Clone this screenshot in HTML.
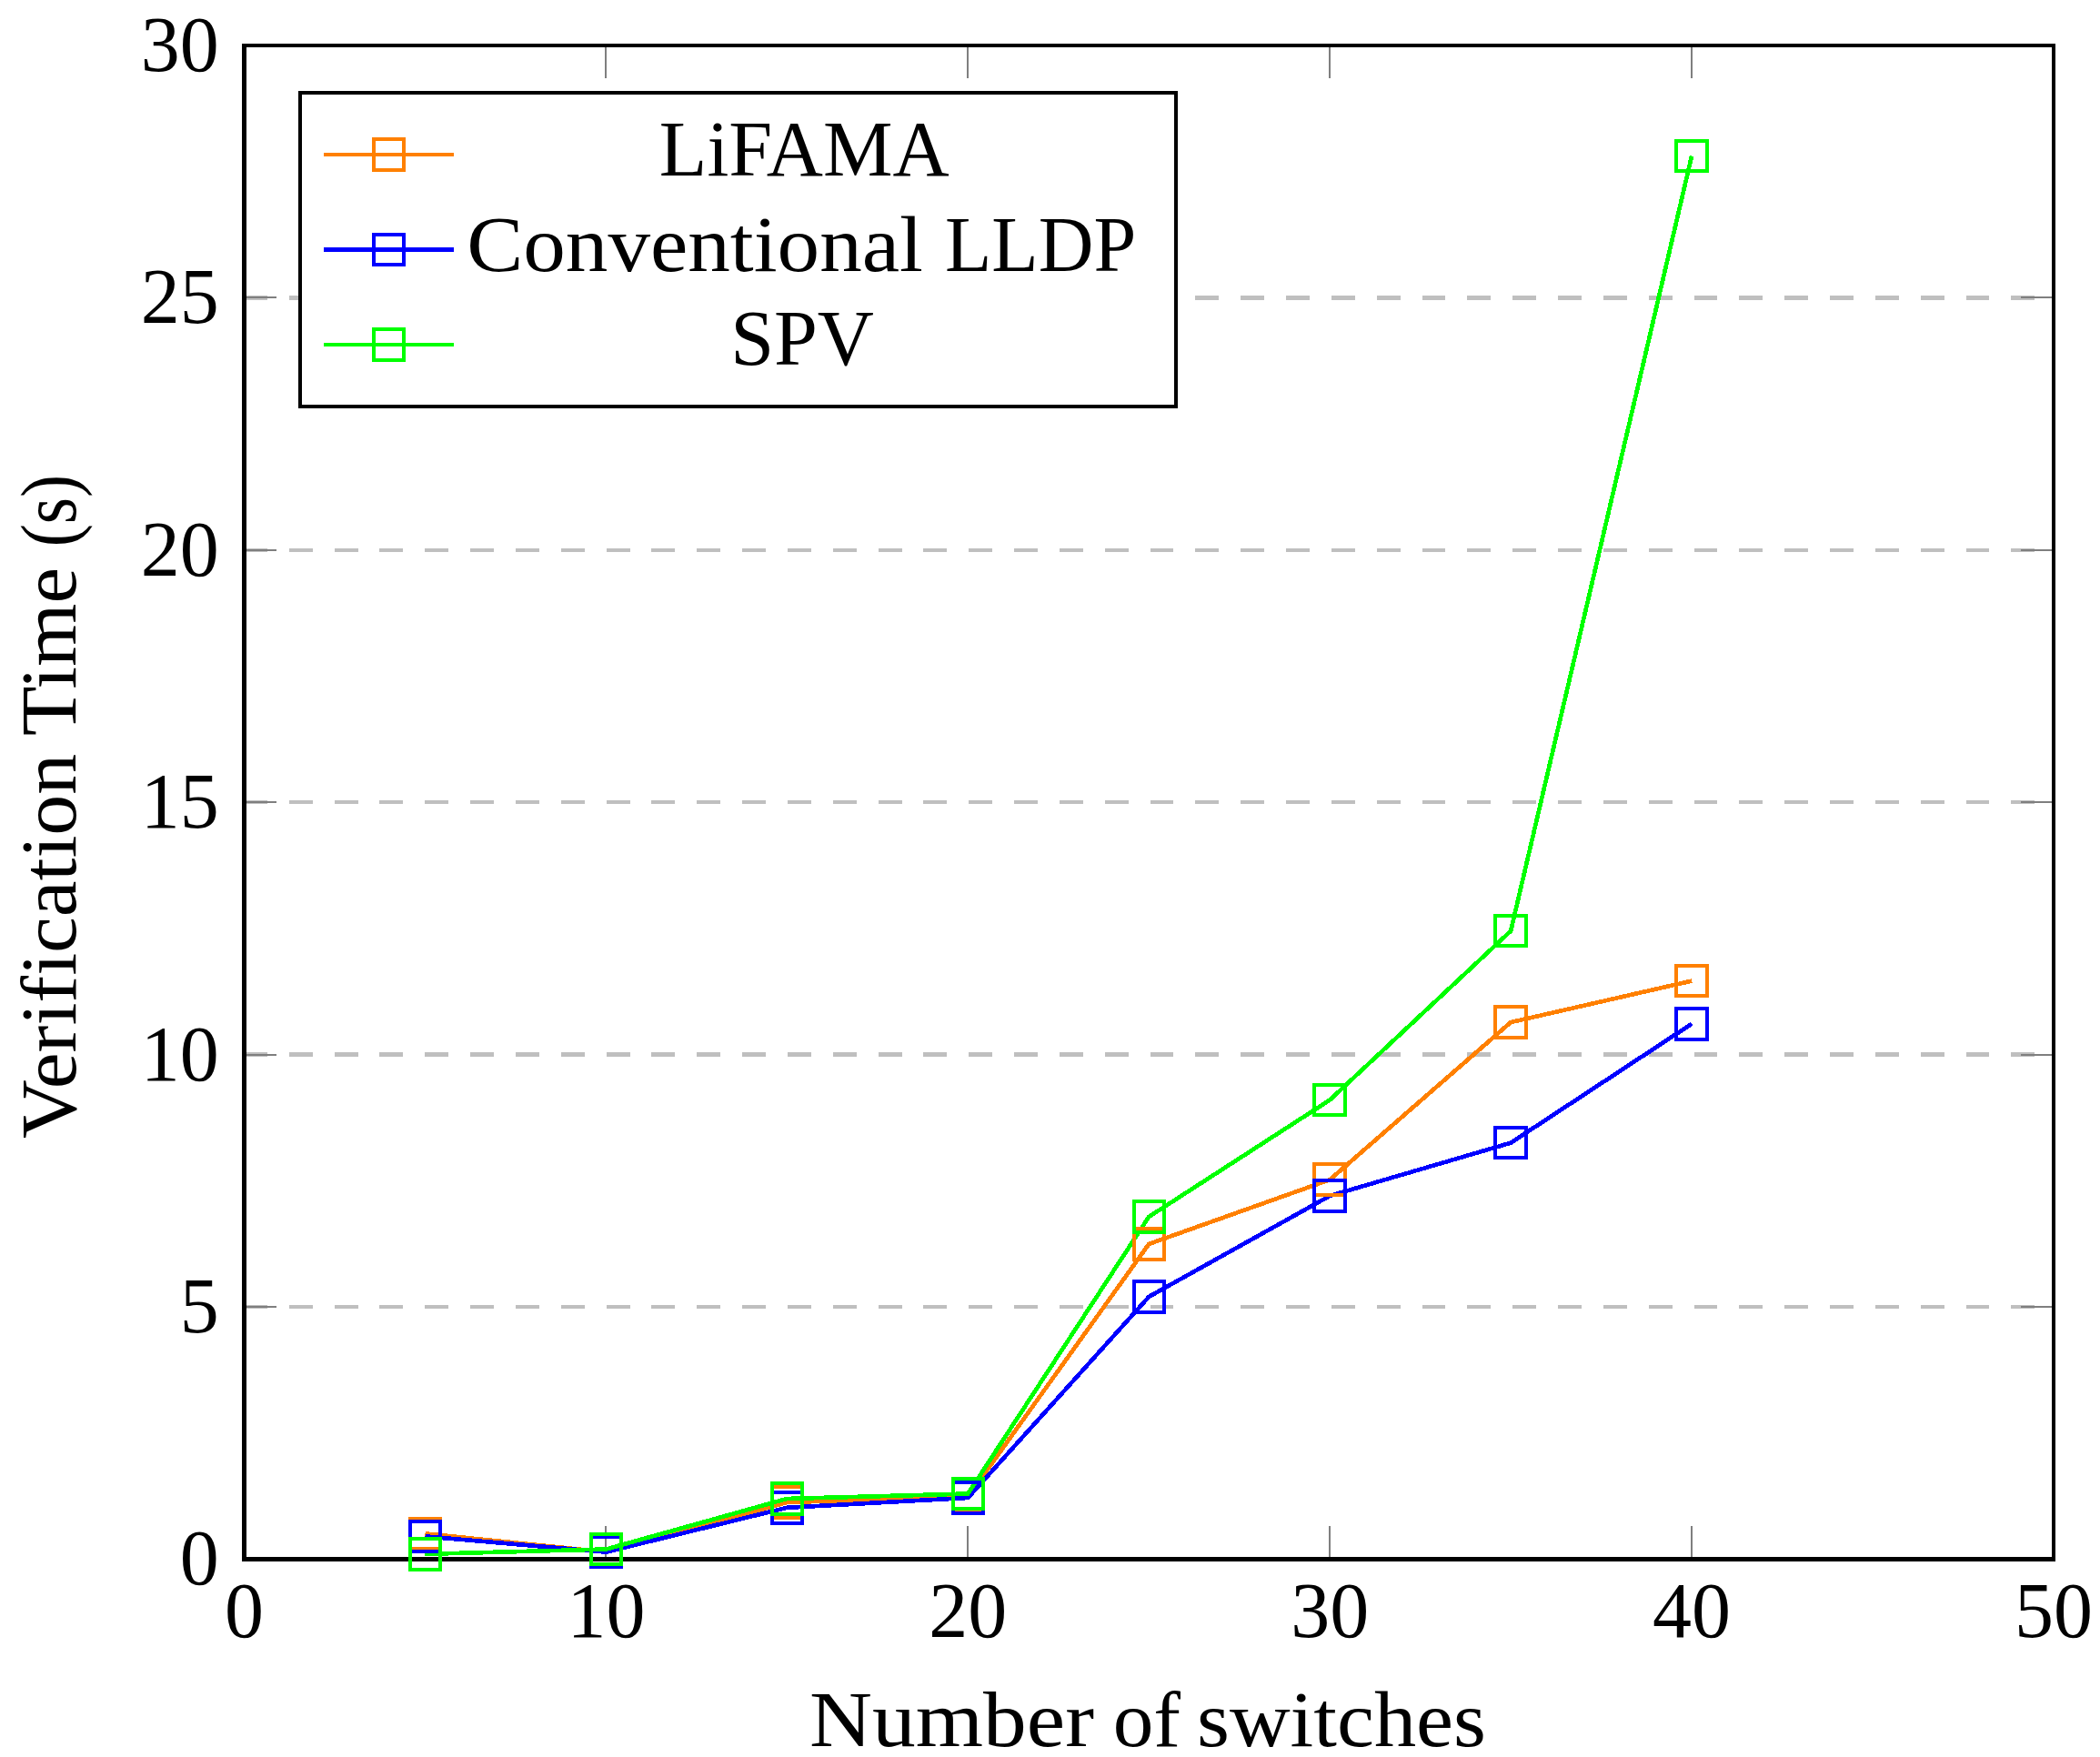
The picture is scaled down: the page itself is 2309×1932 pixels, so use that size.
<!DOCTYPE html>
<html lang="en"><head><meta charset="utf-8"><title>Verification Time vs Number of switches</title>
<style>html,body{margin:0;padding:0;background:#fff}body{width:2309px;height:1932px;overflow:hidden}svg{display:block}text{font-family:"Liberation Serif",serif;fill:#000}</style></head><body>
<svg width="2309" height="1932" viewBox="0 0 2309 1932">
<rect x="0" y="0" width="2309" height="1932" fill="#fff"/>
<g shape-rendering="crispEdges">
<rect x="268" y="1435" width="26" height="4" fill="#bfbfbf"/>
<rect x="318" y="1435" width="26" height="4" fill="#bfbfbf"/>
<rect x="368" y="1435" width="26" height="4" fill="#bfbfbf"/>
<rect x="417" y="1435" width="26" height="4" fill="#bfbfbf"/>
<rect x="467" y="1435" width="26" height="4" fill="#bfbfbf"/>
<rect x="517" y="1435" width="26" height="4" fill="#bfbfbf"/>
<rect x="567" y="1435" width="26" height="4" fill="#bfbfbf"/>
<rect x="617" y="1435" width="26" height="4" fill="#bfbfbf"/>
<rect x="667" y="1435" width="26" height="4" fill="#bfbfbf"/>
<rect x="716" y="1435" width="26" height="4" fill="#bfbfbf"/>
<rect x="766" y="1435" width="26" height="4" fill="#bfbfbf"/>
<rect x="816" y="1435" width="26" height="4" fill="#bfbfbf"/>
<rect x="866" y="1435" width="26" height="4" fill="#bfbfbf"/>
<rect x="916" y="1435" width="26" height="4" fill="#bfbfbf"/>
<rect x="966" y="1435" width="26" height="4" fill="#bfbfbf"/>
<rect x="1015" y="1435" width="26" height="4" fill="#bfbfbf"/>
<rect x="1065" y="1435" width="26" height="4" fill="#bfbfbf"/>
<rect x="1115" y="1435" width="26" height="4" fill="#bfbfbf"/>
<rect x="1165" y="1435" width="26" height="4" fill="#bfbfbf"/>
<rect x="1215" y="1435" width="26" height="4" fill="#bfbfbf"/>
<rect x="1265" y="1435" width="25" height="4" fill="#bfbfbf"/>
<rect x="1314" y="1435" width="26" height="4" fill="#bfbfbf"/>
<rect x="1364" y="1435" width="26" height="4" fill="#bfbfbf"/>
<rect x="1414" y="1435" width="26" height="4" fill="#bfbfbf"/>
<rect x="1464" y="1435" width="26" height="4" fill="#bfbfbf"/>
<rect x="1514" y="1435" width="26" height="4" fill="#bfbfbf"/>
<rect x="1564" y="1435" width="25" height="4" fill="#bfbfbf"/>
<rect x="1613" y="1435" width="26" height="4" fill="#bfbfbf"/>
<rect x="1663" y="1435" width="26" height="4" fill="#bfbfbf"/>
<rect x="1713" y="1435" width="26" height="4" fill="#bfbfbf"/>
<rect x="1763" y="1435" width="26" height="4" fill="#bfbfbf"/>
<rect x="1813" y="1435" width="26" height="4" fill="#bfbfbf"/>
<rect x="1863" y="1435" width="25" height="4" fill="#bfbfbf"/>
<rect x="1912" y="1435" width="26" height="4" fill="#bfbfbf"/>
<rect x="1962" y="1435" width="26" height="4" fill="#bfbfbf"/>
<rect x="2012" y="1435" width="26" height="4" fill="#bfbfbf"/>
<rect x="2062" y="1435" width="26" height="4" fill="#bfbfbf"/>
<rect x="2112" y="1435" width="26" height="4" fill="#bfbfbf"/>
<rect x="2162" y="1435" width="25" height="4" fill="#bfbfbf"/>
<rect x="2211" y="1435" width="26" height="4" fill="#bfbfbf"/>
<rect x="268" y="1157" width="26" height="5" fill="#bfbfbf"/>
<rect x="318" y="1157" width="26" height="5" fill="#bfbfbf"/>
<rect x="368" y="1157" width="26" height="5" fill="#bfbfbf"/>
<rect x="417" y="1157" width="26" height="5" fill="#bfbfbf"/>
<rect x="467" y="1157" width="26" height="5" fill="#bfbfbf"/>
<rect x="517" y="1157" width="26" height="5" fill="#bfbfbf"/>
<rect x="567" y="1157" width="26" height="5" fill="#bfbfbf"/>
<rect x="617" y="1157" width="26" height="5" fill="#bfbfbf"/>
<rect x="667" y="1157" width="26" height="5" fill="#bfbfbf"/>
<rect x="716" y="1157" width="26" height="5" fill="#bfbfbf"/>
<rect x="766" y="1157" width="26" height="5" fill="#bfbfbf"/>
<rect x="816" y="1157" width="26" height="5" fill="#bfbfbf"/>
<rect x="866" y="1157" width="26" height="5" fill="#bfbfbf"/>
<rect x="916" y="1157" width="26" height="5" fill="#bfbfbf"/>
<rect x="966" y="1157" width="26" height="5" fill="#bfbfbf"/>
<rect x="1015" y="1157" width="26" height="5" fill="#bfbfbf"/>
<rect x="1065" y="1157" width="26" height="5" fill="#bfbfbf"/>
<rect x="1115" y="1157" width="26" height="5" fill="#bfbfbf"/>
<rect x="1165" y="1157" width="26" height="5" fill="#bfbfbf"/>
<rect x="1215" y="1157" width="26" height="5" fill="#bfbfbf"/>
<rect x="1265" y="1157" width="25" height="5" fill="#bfbfbf"/>
<rect x="1314" y="1157" width="26" height="5" fill="#bfbfbf"/>
<rect x="1364" y="1157" width="26" height="5" fill="#bfbfbf"/>
<rect x="1414" y="1157" width="26" height="5" fill="#bfbfbf"/>
<rect x="1464" y="1157" width="26" height="5" fill="#bfbfbf"/>
<rect x="1514" y="1157" width="26" height="5" fill="#bfbfbf"/>
<rect x="1564" y="1157" width="25" height="5" fill="#bfbfbf"/>
<rect x="1613" y="1157" width="26" height="5" fill="#bfbfbf"/>
<rect x="1663" y="1157" width="26" height="5" fill="#bfbfbf"/>
<rect x="1713" y="1157" width="26" height="5" fill="#bfbfbf"/>
<rect x="1763" y="1157" width="26" height="5" fill="#bfbfbf"/>
<rect x="1813" y="1157" width="26" height="5" fill="#bfbfbf"/>
<rect x="1863" y="1157" width="25" height="5" fill="#bfbfbf"/>
<rect x="1912" y="1157" width="26" height="5" fill="#bfbfbf"/>
<rect x="1962" y="1157" width="26" height="5" fill="#bfbfbf"/>
<rect x="2012" y="1157" width="26" height="5" fill="#bfbfbf"/>
<rect x="2062" y="1157" width="26" height="5" fill="#bfbfbf"/>
<rect x="2112" y="1157" width="26" height="5" fill="#bfbfbf"/>
<rect x="2162" y="1157" width="25" height="5" fill="#bfbfbf"/>
<rect x="2211" y="1157" width="26" height="5" fill="#bfbfbf"/>
<rect x="268" y="880" width="26" height="4" fill="#bfbfbf"/>
<rect x="318" y="880" width="26" height="4" fill="#bfbfbf"/>
<rect x="368" y="880" width="26" height="4" fill="#bfbfbf"/>
<rect x="417" y="880" width="26" height="4" fill="#bfbfbf"/>
<rect x="467" y="880" width="26" height="4" fill="#bfbfbf"/>
<rect x="517" y="880" width="26" height="4" fill="#bfbfbf"/>
<rect x="567" y="880" width="26" height="4" fill="#bfbfbf"/>
<rect x="617" y="880" width="26" height="4" fill="#bfbfbf"/>
<rect x="667" y="880" width="26" height="4" fill="#bfbfbf"/>
<rect x="716" y="880" width="26" height="4" fill="#bfbfbf"/>
<rect x="766" y="880" width="26" height="4" fill="#bfbfbf"/>
<rect x="816" y="880" width="26" height="4" fill="#bfbfbf"/>
<rect x="866" y="880" width="26" height="4" fill="#bfbfbf"/>
<rect x="916" y="880" width="26" height="4" fill="#bfbfbf"/>
<rect x="966" y="880" width="26" height="4" fill="#bfbfbf"/>
<rect x="1015" y="880" width="26" height="4" fill="#bfbfbf"/>
<rect x="1065" y="880" width="26" height="4" fill="#bfbfbf"/>
<rect x="1115" y="880" width="26" height="4" fill="#bfbfbf"/>
<rect x="1165" y="880" width="26" height="4" fill="#bfbfbf"/>
<rect x="1215" y="880" width="26" height="4" fill="#bfbfbf"/>
<rect x="1265" y="880" width="25" height="4" fill="#bfbfbf"/>
<rect x="1314" y="880" width="26" height="4" fill="#bfbfbf"/>
<rect x="1364" y="880" width="26" height="4" fill="#bfbfbf"/>
<rect x="1414" y="880" width="26" height="4" fill="#bfbfbf"/>
<rect x="1464" y="880" width="26" height="4" fill="#bfbfbf"/>
<rect x="1514" y="880" width="26" height="4" fill="#bfbfbf"/>
<rect x="1564" y="880" width="25" height="4" fill="#bfbfbf"/>
<rect x="1613" y="880" width="26" height="4" fill="#bfbfbf"/>
<rect x="1663" y="880" width="26" height="4" fill="#bfbfbf"/>
<rect x="1713" y="880" width="26" height="4" fill="#bfbfbf"/>
<rect x="1763" y="880" width="26" height="4" fill="#bfbfbf"/>
<rect x="1813" y="880" width="26" height="4" fill="#bfbfbf"/>
<rect x="1863" y="880" width="25" height="4" fill="#bfbfbf"/>
<rect x="1912" y="880" width="26" height="4" fill="#bfbfbf"/>
<rect x="1962" y="880" width="26" height="4" fill="#bfbfbf"/>
<rect x="2012" y="880" width="26" height="4" fill="#bfbfbf"/>
<rect x="2062" y="880" width="26" height="4" fill="#bfbfbf"/>
<rect x="2112" y="880" width="26" height="4" fill="#bfbfbf"/>
<rect x="2162" y="880" width="25" height="4" fill="#bfbfbf"/>
<rect x="2211" y="880" width="26" height="4" fill="#bfbfbf"/>
<rect x="268" y="603" width="26" height="4" fill="#bfbfbf"/>
<rect x="318" y="603" width="26" height="4" fill="#bfbfbf"/>
<rect x="368" y="603" width="26" height="4" fill="#bfbfbf"/>
<rect x="417" y="603" width="26" height="4" fill="#bfbfbf"/>
<rect x="467" y="603" width="26" height="4" fill="#bfbfbf"/>
<rect x="517" y="603" width="26" height="4" fill="#bfbfbf"/>
<rect x="567" y="603" width="26" height="4" fill="#bfbfbf"/>
<rect x="617" y="603" width="26" height="4" fill="#bfbfbf"/>
<rect x="667" y="603" width="26" height="4" fill="#bfbfbf"/>
<rect x="716" y="603" width="26" height="4" fill="#bfbfbf"/>
<rect x="766" y="603" width="26" height="4" fill="#bfbfbf"/>
<rect x="816" y="603" width="26" height="4" fill="#bfbfbf"/>
<rect x="866" y="603" width="26" height="4" fill="#bfbfbf"/>
<rect x="916" y="603" width="26" height="4" fill="#bfbfbf"/>
<rect x="966" y="603" width="26" height="4" fill="#bfbfbf"/>
<rect x="1015" y="603" width="26" height="4" fill="#bfbfbf"/>
<rect x="1065" y="603" width="26" height="4" fill="#bfbfbf"/>
<rect x="1115" y="603" width="26" height="4" fill="#bfbfbf"/>
<rect x="1165" y="603" width="26" height="4" fill="#bfbfbf"/>
<rect x="1215" y="603" width="26" height="4" fill="#bfbfbf"/>
<rect x="1265" y="603" width="25" height="4" fill="#bfbfbf"/>
<rect x="1314" y="603" width="26" height="4" fill="#bfbfbf"/>
<rect x="1364" y="603" width="26" height="4" fill="#bfbfbf"/>
<rect x="1414" y="603" width="26" height="4" fill="#bfbfbf"/>
<rect x="1464" y="603" width="26" height="4" fill="#bfbfbf"/>
<rect x="1514" y="603" width="26" height="4" fill="#bfbfbf"/>
<rect x="1564" y="603" width="25" height="4" fill="#bfbfbf"/>
<rect x="1613" y="603" width="26" height="4" fill="#bfbfbf"/>
<rect x="1663" y="603" width="26" height="4" fill="#bfbfbf"/>
<rect x="1713" y="603" width="26" height="4" fill="#bfbfbf"/>
<rect x="1763" y="603" width="26" height="4" fill="#bfbfbf"/>
<rect x="1813" y="603" width="26" height="4" fill="#bfbfbf"/>
<rect x="1863" y="603" width="25" height="4" fill="#bfbfbf"/>
<rect x="1912" y="603" width="26" height="4" fill="#bfbfbf"/>
<rect x="1962" y="603" width="26" height="4" fill="#bfbfbf"/>
<rect x="2012" y="603" width="26" height="4" fill="#bfbfbf"/>
<rect x="2062" y="603" width="26" height="4" fill="#bfbfbf"/>
<rect x="2112" y="603" width="26" height="4" fill="#bfbfbf"/>
<rect x="2162" y="603" width="25" height="4" fill="#bfbfbf"/>
<rect x="2211" y="603" width="26" height="4" fill="#bfbfbf"/>
<rect x="268" y="325" width="26" height="5" fill="#bfbfbf"/>
<rect x="318" y="325" width="26" height="5" fill="#bfbfbf"/>
<rect x="368" y="325" width="26" height="5" fill="#bfbfbf"/>
<rect x="417" y="325" width="26" height="5" fill="#bfbfbf"/>
<rect x="467" y="325" width="26" height="5" fill="#bfbfbf"/>
<rect x="517" y="325" width="26" height="5" fill="#bfbfbf"/>
<rect x="567" y="325" width="26" height="5" fill="#bfbfbf"/>
<rect x="617" y="325" width="26" height="5" fill="#bfbfbf"/>
<rect x="667" y="325" width="26" height="5" fill="#bfbfbf"/>
<rect x="716" y="325" width="26" height="5" fill="#bfbfbf"/>
<rect x="766" y="325" width="26" height="5" fill="#bfbfbf"/>
<rect x="816" y="325" width="26" height="5" fill="#bfbfbf"/>
<rect x="866" y="325" width="26" height="5" fill="#bfbfbf"/>
<rect x="916" y="325" width="26" height="5" fill="#bfbfbf"/>
<rect x="966" y="325" width="26" height="5" fill="#bfbfbf"/>
<rect x="1015" y="325" width="26" height="5" fill="#bfbfbf"/>
<rect x="1065" y="325" width="26" height="5" fill="#bfbfbf"/>
<rect x="1115" y="325" width="26" height="5" fill="#bfbfbf"/>
<rect x="1165" y="325" width="26" height="5" fill="#bfbfbf"/>
<rect x="1215" y="325" width="26" height="5" fill="#bfbfbf"/>
<rect x="1265" y="325" width="25" height="5" fill="#bfbfbf"/>
<rect x="1314" y="325" width="26" height="5" fill="#bfbfbf"/>
<rect x="1364" y="325" width="26" height="5" fill="#bfbfbf"/>
<rect x="1414" y="325" width="26" height="5" fill="#bfbfbf"/>
<rect x="1464" y="325" width="26" height="5" fill="#bfbfbf"/>
<rect x="1514" y="325" width="26" height="5" fill="#bfbfbf"/>
<rect x="1564" y="325" width="25" height="5" fill="#bfbfbf"/>
<rect x="1613" y="325" width="26" height="5" fill="#bfbfbf"/>
<rect x="1663" y="325" width="26" height="5" fill="#bfbfbf"/>
<rect x="1713" y="325" width="26" height="5" fill="#bfbfbf"/>
<rect x="1763" y="325" width="26" height="5" fill="#bfbfbf"/>
<rect x="1813" y="325" width="26" height="5" fill="#bfbfbf"/>
<rect x="1863" y="325" width="25" height="5" fill="#bfbfbf"/>
<rect x="1912" y="325" width="26" height="5" fill="#bfbfbf"/>
<rect x="1962" y="325" width="26" height="5" fill="#bfbfbf"/>
<rect x="2012" y="325" width="26" height="5" fill="#bfbfbf"/>
<rect x="2062" y="325" width="26" height="5" fill="#bfbfbf"/>
<rect x="2112" y="325" width="26" height="5" fill="#bfbfbf"/>
<rect x="2162" y="325" width="25" height="5" fill="#bfbfbf"/>
<rect x="2211" y="325" width="26" height="5" fill="#bfbfbf"/>
<rect x="665" y="1678" width="2" height="34" fill="#7f7f7f"/>
<rect x="665" y="52" width="2" height="34" fill="#7f7f7f"/>
<rect x="1063" y="1678" width="2" height="34" fill="#7f7f7f"/>
<rect x="1063" y="52" width="2" height="34" fill="#7f7f7f"/>
<rect x="1461" y="1678" width="2" height="34" fill="#7f7f7f"/>
<rect x="1461" y="52" width="2" height="34" fill="#7f7f7f"/>
<rect x="1859" y="1678" width="2" height="34" fill="#7f7f7f"/>
<rect x="1859" y="52" width="2" height="34" fill="#7f7f7f"/>
<rect x="271" y="1436" width="33" height="2" fill="#7f7f7f"/>
<rect x="2222" y="1436" width="34" height="2" fill="#7f7f7f"/>
<rect x="271" y="1159" width="33" height="2" fill="#7f7f7f"/>
<rect x="2222" y="1159" width="34" height="2" fill="#7f7f7f"/>
<rect x="271" y="881" width="33" height="2" fill="#7f7f7f"/>
<rect x="2222" y="881" width="34" height="2" fill="#7f7f7f"/>
<rect x="271" y="604" width="33" height="2" fill="#7f7f7f"/>
<rect x="2222" y="604" width="34" height="2" fill="#7f7f7f"/>
<rect x="271" y="326" width="33" height="2" fill="#7f7f7f"/>
<rect x="2222" y="326" width="34" height="2" fill="#7f7f7f"/>
<rect x="266" y="48" width="5" height="1669" fill="#000"/>
<rect x="2256" y="48" width="4" height="1669" fill="#000"/>
<rect x="266" y="48" width="1994" height="4" fill="#000"/>
<rect x="266" y="1712" width="1994" height="5" fill="#000"/>
<polyline points="467.45,1686.38 666.40,1706.63 865.35,1651.99 1064.30,1645.88 1263.25,1367.93 1462.20,1297.19 1661.15,1124.09 1860.10,1078.60" fill="none" stroke="#ff8000" stroke-width="4.70" stroke-linejoin="miter" stroke-linecap="butt"/>
<polyline points="467.45,1689.43 666.40,1706.63 865.35,1657.81 1064.30,1646.99 1263.25,1425.90 1462.20,1314.94 1661.15,1256.69 1860.10,1125.76" fill="none" stroke="#0000ff" stroke-width="4.70" stroke-linejoin="miter" stroke-linecap="butt"/>
<polyline points="467.45,1708.85 666.40,1703.53 865.35,1647.99 1064.30,1642.50 1263.25,1337.97 1462.20,1209.53 1661.15,1023.67 1860.10,171.50" fill="none" stroke="#00ff00" stroke-width="4.70" stroke-linejoin="miter" stroke-linecap="butt"/>
<rect x="450.70" y="1669.63" width="33.50" height="33.50" fill="none" stroke="#ff8000" stroke-width="4.00"/>
<rect x="649.65" y="1689.88" width="33.50" height="33.50" fill="none" stroke="#ff8000" stroke-width="4.00"/>
<rect x="848.60" y="1635.24" width="33.50" height="33.50" fill="none" stroke="#ff8000" stroke-width="4.00"/>
<rect x="1047.55" y="1629.13" width="33.50" height="33.50" fill="none" stroke="#ff8000" stroke-width="4.00"/>
<rect x="1246.50" y="1351.18" width="33.50" height="33.50" fill="none" stroke="#ff8000" stroke-width="4.00"/>
<rect x="1445.45" y="1280.44" width="33.50" height="33.50" fill="none" stroke="#ff8000" stroke-width="4.00"/>
<rect x="1644.40" y="1107.34" width="33.50" height="33.50" fill="none" stroke="#ff8000" stroke-width="4.00"/>
<rect x="1843.35" y="1061.85" width="33.50" height="33.50" fill="none" stroke="#ff8000" stroke-width="4.00"/>
<rect x="450.70" y="1672.68" width="33.50" height="33.50" fill="none" stroke="#0000ff" stroke-width="4.00"/>
<rect x="649.65" y="1689.88" width="33.50" height="33.50" fill="none" stroke="#0000ff" stroke-width="4.00"/>
<rect x="848.60" y="1641.06" width="33.50" height="33.50" fill="none" stroke="#0000ff" stroke-width="4.00"/>
<rect x="1047.55" y="1630.24" width="33.50" height="33.50" fill="none" stroke="#0000ff" stroke-width="4.00"/>
<rect x="1246.50" y="1409.15" width="33.50" height="33.50" fill="none" stroke="#0000ff" stroke-width="4.00"/>
<rect x="1445.45" y="1298.19" width="33.50" height="33.50" fill="none" stroke="#0000ff" stroke-width="4.00"/>
<rect x="1644.40" y="1239.94" width="33.50" height="33.50" fill="none" stroke="#0000ff" stroke-width="4.00"/>
<rect x="1843.35" y="1109.01" width="33.50" height="33.50" fill="none" stroke="#0000ff" stroke-width="4.00"/>
<rect x="450.70" y="1692.10" width="33.50" height="33.50" fill="none" stroke="#00ff00" stroke-width="4.00"/>
<rect x="649.65" y="1686.78" width="33.50" height="33.50" fill="none" stroke="#00ff00" stroke-width="4.00"/>
<rect x="848.60" y="1631.24" width="33.50" height="33.50" fill="none" stroke="#00ff00" stroke-width="4.00"/>
<rect x="1047.55" y="1625.75" width="33.50" height="33.50" fill="none" stroke="#00ff00" stroke-width="4.00"/>
<rect x="1246.50" y="1321.22" width="33.50" height="33.50" fill="none" stroke="#00ff00" stroke-width="4.00"/>
<rect x="1445.45" y="1192.78" width="33.50" height="33.50" fill="none" stroke="#00ff00" stroke-width="4.00"/>
<rect x="1644.40" y="1006.92" width="33.50" height="33.50" fill="none" stroke="#00ff00" stroke-width="4.00"/>
<rect x="1843.35" y="154.75" width="33.50" height="33.50" fill="none" stroke="#00ff00" stroke-width="4.00"/>
<rect x="328" y="100" width="967" height="349" fill="#000"/>
<rect x="332" y="104" width="959" height="341" fill="#fff"/>
<rect x="356" y="168" width="143" height="4" fill="#ff8000"/>
<rect x="410.75" y="153.25" width="33.50" height="33.50" fill="none" stroke="#ff8000" stroke-width="4.00"/>
<rect x="356" y="272" width="143" height="5" fill="#0000ff"/>
<rect x="410.75" y="257.75" width="33.50" height="33.50" fill="none" stroke="#0000ff" stroke-width="4.00"/>
<rect x="356" y="377" width="143" height="4" fill="#00ff00"/>
<rect x="410.75" y="362.25" width="33.50" height="33.50" fill="none" stroke="#00ff00" stroke-width="4.00"/>
</g>
<text x="240.8" y="1742.4" font-size="86" text-anchor="end">0</text>
<text x="240.8" y="1465.0" font-size="86" text-anchor="end">5</text>
<text x="240.8" y="1187.6" font-size="86" text-anchor="end">10</text>
<text x="240.8" y="910.2" font-size="86" text-anchor="end">15</text>
<text x="240.8" y="632.8" font-size="86" text-anchor="end">20</text>
<text x="240.8" y="355.4" font-size="86" text-anchor="end">25</text>
<text x="240.8" y="78.0" font-size="86" text-anchor="end">30</text>
<text x="268.5" y="1800.0" font-size="86" text-anchor="middle">0</text>
<text x="666.4" y="1800.0" font-size="86" text-anchor="middle">10</text>
<text x="1064.3" y="1800.0" font-size="86" text-anchor="middle">20</text>
<text x="1462.2" y="1800.0" font-size="86" text-anchor="middle">30</text>
<text x="1860.1" y="1800.0" font-size="86" text-anchor="middle">40</text>
<text x="2258.0" y="1800.0" font-size="86" text-anchor="middle">50</text>
<text y="1919.5" font-size="86"><tspan x="890.0" textLength="313.0" lengthAdjust="spacingAndGlyphs">Number</tspan> <tspan x="1223.7" textLength="74.3" lengthAdjust="spacingAndGlyphs">of</tspan> <tspan x="1316.0" textLength="318.0" lengthAdjust="spacingAndGlyphs">switches</tspan></text>
<g transform="translate(83,0) rotate(-90)">
<text y="0.0" font-size="86"><tspan x="-1252.0" textLength="423.0" lengthAdjust="spacingAndGlyphs">Verification</tspan> <tspan x="-809.0" textLength="185.0" lengthAdjust="spacingAndGlyphs">Time</tspan> <tspan x="-601.3" textLength="79.4" lengthAdjust="spacingAndGlyphs">(s)</tspan></text>
</g>
<text y="192.6" font-size="86"><tspan x="724.8" textLength="319.0" lengthAdjust="spacingAndGlyphs">LiFAMA</tspan></text>
<text y="298.1" font-size="86"><tspan x="513.2" textLength="501.7" lengthAdjust="spacingAndGlyphs">Conventional</tspan> <tspan x="1039.0" textLength="210.2" lengthAdjust="spacingAndGlyphs">LLDP</tspan></text>
<text y="401.0" font-size="86"><tspan x="803.2" textLength="157.7" lengthAdjust="spacingAndGlyphs">SPV</tspan></text>
</svg></body></html>
